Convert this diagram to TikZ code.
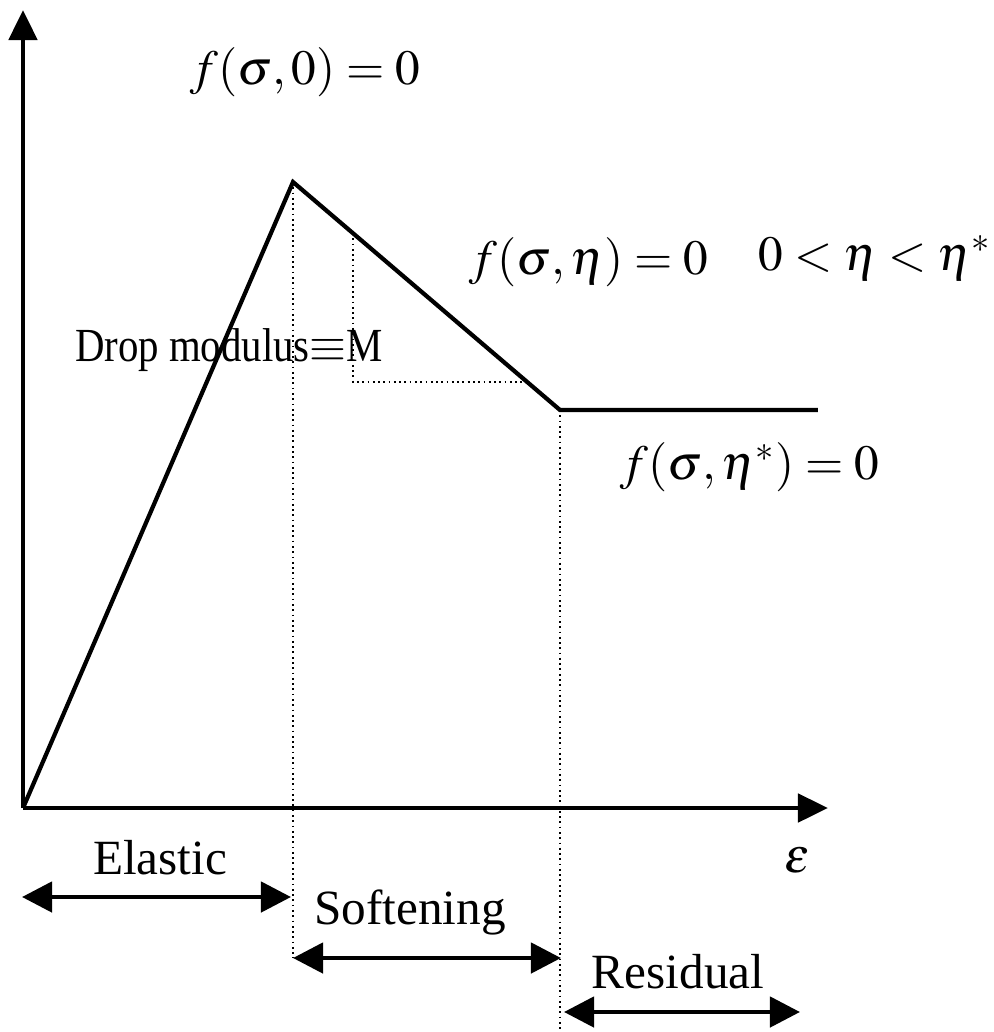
\documentclass[tikz,border=0pt]{standalone}
\usepackage{mathptmx}
\usepackage{fontspec}
\setmainfont{Liberation Serif}
\newfontfamily\narrowfont[FakeStretch=0.86]{Liberation Serif}
\usetikzlibrary{arrows.meta}

\begin{document}
\begin{tikzpicture}[x=0.01cm,y=-0.01cm,
    axis/.style={-{Triangle[length=0.3cm,width=0.28cm]}, line width=1.4pt},
    span/.style={{Triangle[length=0.3cm,width=0.3cm]}-{Triangle[length=0.3cm,width=0.3cm]}, line width=1.3pt},
    guide/.style={densely dotted, line width=0.5pt},
    lbl/.style={font=\fontsize{14}{16}\selectfont, inner sep=0pt}]
  \useasboundingbox (0,0) rectangle (994,1032);
  % points of the curve
  \coordinate (O) at (23,808);
  \coordinate (ytop) at (23,10);
  \coordinate (xend) at (828,808);
  \coordinate (peak) at (293,182);
  \coordinate (res) at (560,410);
  \coordinate (resend) at (818,410);
  \coordinate (m1) at (353,233);
  \coordinate (m2) at (353,382);
  \coordinate (m3) at (527,382);
  \coordinate (pk-low) at (293,958);
  \coordinate (res-low) at (560,1032);
  % axes
  \draw[axis] (O) -- (ytop);
  \draw[axis] (O) -- (xend);
  % curve
  \draw[line width=1.2pt, line join=miter]
    (O) -- (peak) -- (res) -- (resend);
  % guides
  \draw[guide] (peak) -- (pk-low);
  \draw[guide] (res) -- (res-low);
  \draw[guide] (m1) -- (m2) -- (m3);
  % ranges
  \coordinate (e1) at (22,897);
  \coordinate (e2) at (291,897);
  \coordinate (s1) at (293,958);
  \coordinate (s2) at (561,958);
  \coordinate (r1) at (564,1012);
  \coordinate (r2) at (800,1012);
  \draw[span] (e1) -- (e2);
  \draw[span] (s1) -- (s2);
  \draw[span] (r1) -- (r2);
  % labels
  \node[lbl] (fpeak) at (305,72) {$f(\sigma,0)=0$};
  \node[lbl] (fsoft) at (589,262) {$f(\sigma,\eta)=0$};
  \node[lbl] (range) at (875,258) {$0<\eta<\eta^{*}$};
  \node[lbl, font=\fontsize{13.5}{16}\narrowfont] (drop) at (229,350) {Drop modulus$\equiv$M};
  \node[lbl] (fres) at (750,467) {$f(\sigma,\eta^{*})=0$};
  \node[lbl] (elastic) at (160,858) {Elastic};
  \node[lbl] (eps) at (797,860) {$\varepsilon$};
  \node[lbl] (soft) at (410,912) {Softening};
  \node[lbl] (resid) at (678,972) {Residual};
\end{tikzpicture}
\end{document}
